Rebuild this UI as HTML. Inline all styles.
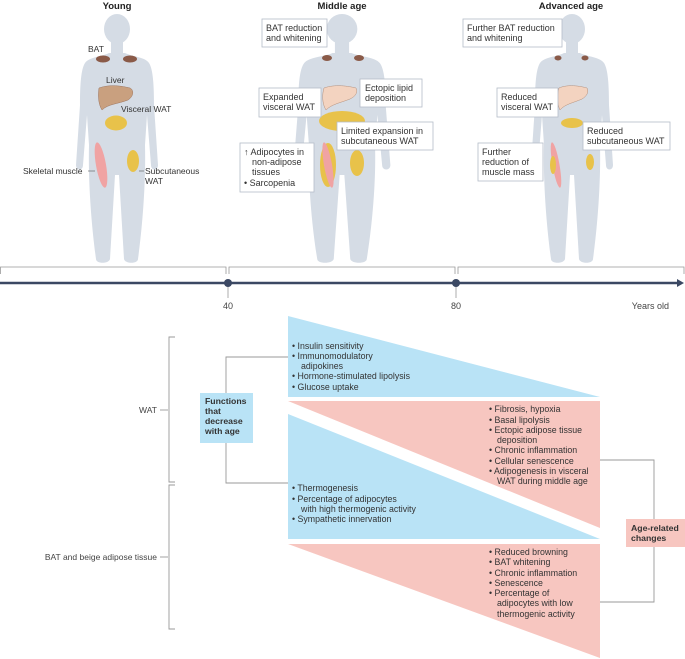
<!DOCTYPE html>
<html><head><meta charset="utf-8"><style>
html,body{margin:0;padding:0;background:#fff;}
svg{display:block;font-family:"Liberation Sans",sans-serif;}
</style></head><body>
<svg width="685" height="659" viewBox="0 0 685 659" xmlns="http://www.w3.org/2000/svg">
<defs>
<g id="body">
<ellipse cx="0" cy="14" rx="13" ry="15"/>
<rect x="-6" y="22" width="12" height="20"/>
<path d="M -8 38 C -16 42, -28 42, -32 48 C -36 54, -37 70, -37 90 L -41 150 C -41 156, -34 156, -34 150 L -30 100 L -28 130 C -29 170, -25 215, -21 244 C -21 249, -8 249, -7 244 L -2 160 L 2 160 L 7 244 C 8 249, 21 249, 21 244 C 25 215, 29 170, 28 130 L 30 100 L 34 150 C 34 156, 41 156, 41 150 L 37 90 C 37 70, 36 54, 32 48 C 28 42, 16 42, 8 38 Z"/>
</g>
</defs>
<g fill="#d5dce5">
<use href="#body" transform="translate(117,15)"/>
<use href="#body" transform="translate(342,15) scale(1.18,1)"/>
<use href="#body" transform="translate(572,15)"/>
</g>
<g font-size="9.5" font-weight="bold" fill="#222" text-anchor="middle">
<text x="117" y="9">Young</text><text x="342" y="9">Middle age</text><text x="571" y="9">Advanced age</text>
</g>
<!-- young organs -->
<ellipse cx="103" cy="59" rx="7" ry="3.5" fill="#8a5a48"/><ellipse cx="130" cy="59" rx="7" ry="3.5" fill="#8a5a48"/>
<path d="M99 88 C110 84,122 86,130 88 C134 90,134 96,128 100 C118 104,108 104,102 110 C98 104,98 94,99 88Z" fill="#c9a07f" stroke="#9c7560" stroke-width="0.5"/>
<ellipse cx="116" cy="123" rx="11" ry="7.5" fill="#e8c24a"/>
<ellipse cx="101" cy="165" rx="5" ry="23" transform="rotate(-10 101 165)" fill="#f0a3a3"/>
<ellipse cx="133" cy="161" rx="6" ry="11" fill="#e8c24a"/>
<!-- middle organs -->
<ellipse cx="327" cy="58" rx="5" ry="3" fill="#8a5a48"/><ellipse cx="359" cy="58" rx="5" ry="3" fill="#8a5a48"/>
<path d="M324 88 C335 84,348 86,356 88 C358 92,356 96,350 99 C340 103,332 104,326 110 C322 104,322 94,324 88Z" fill="#f3d3c0" stroke="#b58f7a" stroke-width="0.5"/>
<ellipse cx="342" cy="121" rx="23" ry="10" fill="#e8c24a"/>
<ellipse cx="328" cy="165" rx="8" ry="22" fill="#e8c24a"/>
<ellipse cx="328" cy="165" rx="4" ry="23" transform="rotate(-10 328 165)" fill="#f0a3a3"/>
<ellipse cx="357" cy="163" rx="7" ry="13" fill="#e8c24a"/>
<!-- advanced organs -->
<ellipse cx="558" cy="58" rx="3.5" ry="2.5" fill="#8a5a48"/><ellipse cx="585" cy="58" rx="3.5" ry="2.5" fill="#8a5a48"/>
<path d="M559 88 C568 84,580 86,587 88 C589 92,587 96,582 99 C573 103,565 104,560 110 C557 104,557 94,559 88Z" fill="#f3d3c0" stroke="#b58f7a" stroke-width="0.5"/>
<ellipse cx="572" cy="123" rx="11" ry="5" fill="#e8c24a"/>
<ellipse cx="556" cy="165" rx="3.5" ry="23" transform="rotate(-10 556 165)" fill="#f0a3a3"/>
<ellipse cx="553" cy="165" rx="3" ry="9" fill="#e8c24a"/>
<ellipse cx="590" cy="162" rx="4" ry="8" fill="#e8c24a"/>
<!-- young labels -->
<g font-size="8.5" fill="#333">
<text x="88" y="52">BAT</text><text x="106" y="83">Liver</text><text x="121" y="112">Visceral WAT</text>
<text x="23" y="174">Skeletal muscle</text><line x1="88" y1="171" x2="95" y2="171" stroke="#555" stroke-width="0.6"/>
<text x="145" y="174">Subcutaneous</text><text x="145" y="184">WAT</text><line x1="139" y1="171" x2="144" y2="171" stroke="#555" stroke-width="0.6"/>
</g>
<!-- callouts -->
<g fill="#fff" stroke="#b4bcc8" stroke-width="0.8">
<rect x="262" y="19" width="65" height="28"/><rect x="360" y="79" width="62" height="28"/>
<rect x="259" y="88" width="62" height="29"/><rect x="337" y="122" width="96" height="28"/>
<rect x="240" y="143" width="74" height="49"/>
<rect x="463" y="19" width="99" height="28"/><rect x="497" y="88" width="61" height="29"/>
<rect x="583" y="122" width="87" height="28"/><rect x="478" y="143" width="65" height="38"/>
</g>
<g font-size="9" fill="#333">
<text x="266" y="31">BAT reduction</text><text x="266" y="41">and whitening</text>
<text x="365" y="91">Ectopic lipid</text><text x="365" y="101">deposition</text>
<text x="263" y="100">Expanded</text><text x="263" y="110">visceral WAT</text>
<text x="341" y="134">Limited expansion in</text><text x="341" y="144">subcutaneous WAT</text>
<text x="244" y="155">↑ Adipocytes in</text><text x="252" y="165">non-adipose</text><text x="252" y="175">tissues</text><text x="244" y="186">• Sarcopenia</text>
<text x="467" y="31">Further BAT reduction</text><text x="467" y="41">and whitening</text>
<text x="501" y="100">Reduced</text><text x="501" y="110">visceral WAT</text>
<text x="587" y="134">Reduced</text><text x="587" y="144">subcutaneous WAT</text>
<text x="482" y="155">Further</text><text x="482" y="165">reduction of</text><text x="482" y="175">muscle mass</text>
</g>
<!-- timeline -->
<g stroke="#999" stroke-width="0.8" fill="none">
<path d="M0.5 274 V267 H226 V274"/><path d="M229 274 V267 H455 V274"/><path d="M458 274 V267 H684 V274"/>
<line x1="228" y1="283" x2="228" y2="298"/><line x1="456" y1="283" x2="456" y2="298"/>
</g>
<line x1="0" y1="283" x2="678" y2="283" stroke="#3b4863" stroke-width="2.5"/>
<path d="M677 279 L684 283 L677 287Z" fill="#3b4863"/>
<circle cx="228" cy="283" r="4" fill="#3b4863"/><circle cx="456" cy="283" r="4" fill="#3b4863"/>
<g font-size="9" fill="#444">
<text x="228" y="309" text-anchor="middle">40</text><text x="456" y="309" text-anchor="middle">80</text><text x="669" y="309" text-anchor="end">Years old</text>
</g>
<!-- lower -->
<polygon points="288,316 288,397 600,397" fill="#b9e3f6"/>
<polygon points="288,401 600,401 600,528" fill="#f7c6c0"/>
<polygon points="288,414 288,539 600,539" fill="#b9e3f6"/>
<polygon points="288,544 600,544 600,658" fill="#f7c6c0"/>
<g stroke="#999" stroke-width="0.9" fill="none">
<path d="M175 337 H169 V482 H175"/><path d="M175 485 H169 V629 H175"/>
<line x1="160" y1="410" x2="168" y2="410"/><line x1="160" y1="557" x2="168" y2="557"/>
<path d="M288 357 H226 V483 H288"/>
<path d="M600 460 H654 V602 H600"/>
</g>
<rect x="200" y="393" width="53" height="50" fill="#b9e3f6"/>
<rect x="626" y="519" width="59" height="28" fill="#f7c6c0"/>
<g font-size="8.5" fill="#444">
<text x="157" y="413" text-anchor="end">WAT</text>
<text x="157" y="560" text-anchor="end">BAT and beige adipose tissue</text>
</g>
<g font-size="8.7" font-weight="bold" fill="#333">
<text x="205" y="404">Functions</text><text x="205" y="414">that</text><text x="205" y="424">decrease</text><text x="205" y="434">with age</text>
<text x="631" y="531">Age-related</text><text x="631" y="541">changes</text>
</g>
<g font-size="8.8" fill="#333">
<text x="292" y="349">• Insulin sensitivity</text>
<text x="292" y="359">• Immunomodulatory</text><text x="301" y="369">adipokines</text>
<text x="292" y="379">• Hormone-stimulated lipolysis</text>
<text x="292" y="390">• Glucose uptake</text>
<text x="489" y="412">• Fibrosis, hypoxia</text>
<text x="489" y="423">• Basal lipolysis</text>
<text x="489" y="433">• Ectopic adipose tissue</text><text x="497" y="443">deposition</text>
<text x="489" y="453">• Chronic inflammation</text>
<text x="489" y="464">• Cellular senescence</text>
<text x="489" y="474">• Adipogenesis in visceral</text><text x="497" y="484">WAT during middle age</text>
<text x="292" y="491">• Thermogenesis</text>
<text x="292" y="502">• Percentage of adipocytes</text><text x="301" y="512">with high thermogenic activity</text>
<text x="292" y="522">• Sympathetic innervation</text>
<text x="489" y="555">• Reduced browning</text>
<text x="489" y="565">• BAT whitening</text>
<text x="489" y="576">• Chronic inflammation</text>
<text x="489" y="586">• Senescence</text>
<text x="489" y="596">• Percentage of</text><text x="497" y="606">adipocytes with low</text><text x="497" y="617">thermogenic activity</text>
</g>
</svg>
</body></html>
